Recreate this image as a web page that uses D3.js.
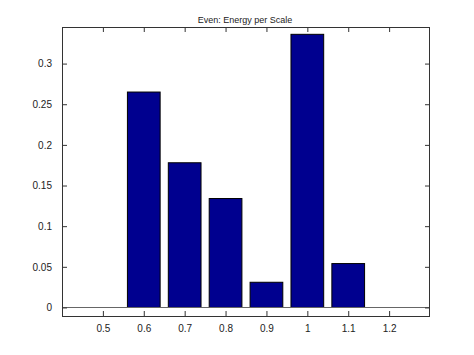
<!DOCTYPE html>
<html>
<head>
<meta charset="utf-8">
<script src="https://cdn.jsdelivr.net/npm/d3@7"></script>
<style>
  html, body { margin: 0; padding: 0; background: #fff; }
  svg { display: block; }
  text { font-family: "Liberation Sans", Arial, Helvetica, sans-serif; fill: #222; }
</style>
</head>
<body>
<svg id="chart" width="474" height="355"></svg>
<script>
// Data
const scales = [0.6, 0.7, 0.8, 0.9, 1.0, 1.1];
const energy = [0.265, 0.178, 0.134, 0.031, 0.336, 0.054];
const xTicks = [0.5, 0.6, 0.7, 0.8, 0.9, 1.0, 1.1, 1.2];
const xTickLabels = ["0.5", "0.6", "0.7", "0.8", "0.9", "1", "1.1", "1.2"];
const yTicks = [0, 0.05, 0.1, 0.15, 0.2, 0.25, 0.3];
const yTickLabels = ["0", "0.05", "0.1", "0.15", "0.2", "0.25", "0.3"];
const titleText = "Even: Energy per Scale";

const svg = d3.select("#chart");
const L = 62, R = 430, T = 27, B = 316;

const x = d3.scaleLinear().domain([0.4, 1.3]).range([L, R]);
const y = d3.scaleLinear().domain([-0.0105, 0.345]).range([B, T]);
const barW = x(0.48) - x(0.4);

// Bars
svg.append("g").selectAll("rect").data(scales).join("rect")
  .attr("x", (d) => x(d) - barW / 2)
  .attr("y", (d, i) => y(energy[i]))
  .attr("width", barW)
  .attr("height", (d, i) => y(0) - y(energy[i]))
  .attr("fill", "#00008f")
  .attr("stroke", "#000")
  .attr("stroke-width", 1);

// Baseline at zero
svg.append("line")
  .attr("x1", L).attr("x2", R)
  .attr("y1", Math.round(y(0)) + 0.5).attr("y2", Math.round(y(0)) + 0.5)
  .attr("stroke", "#666").attr("stroke-width", 1);

// Axes
const tickLen = 5;
const xAxisB = d3.axisBottom(x).tickValues(xTicks).tickSizeInner(-tickLen).tickSizeOuter(0)
  .tickFormat((d, i) => xTickLabels[i]).tickPadding(9);
const gx = svg.append("g").attr("transform", `translate(0,${B})`).call(xAxisB);
const xAxisT = d3.axisTop(x).tickValues(xTicks).tickSizeInner(-tickLen).tickSizeOuter(0).tickFormat("");
const gxt = svg.append("g").attr("transform", `translate(0,${T})`).call(xAxisT);
const yAxisL = d3.axisLeft(y).tickValues(yTicks).tickSizeInner(-tickLen).tickSizeOuter(0)
  .tickFormat((d, i) => yTickLabels[i]).tickPadding(10);
const gy = svg.append("g").attr("transform", `translate(${L},0)`).call(yAxisL);
const yAxisR = d3.axisRight(y).tickValues(yTicks).tickSizeInner(-tickLen).tickSizeOuter(0).tickFormat("");
const gyr = svg.append("g").attr("transform", `translate(${R},0)`).call(yAxisR);

[gx, gxt, gy, gyr].forEach(g => {
  g.select(".domain").remove();
  g.selectAll(".tick line").attr("stroke", "#333");
  g.selectAll("text").attr("font-size", 10).style("fill", "#222")
    .attr("font-family", '"Liberation Sans", Arial, sans-serif');
});

// Box
svg.append("rect")
  .attr("x", L + 0.5).attr("y", T + 0.5)
  .attr("width", R - L - 1).attr("height", B - T)
  .attr("fill", "none").attr("stroke", "#333").attr("stroke-width", 1);

// Title
svg.append("text")
  .attr("x", (L + R) / 2 - 1).attr("y", 23)
  .attr("text-anchor", "middle")
  .attr("font-size", 9)
  .text(titleText);
</script>
</body>
</html>
